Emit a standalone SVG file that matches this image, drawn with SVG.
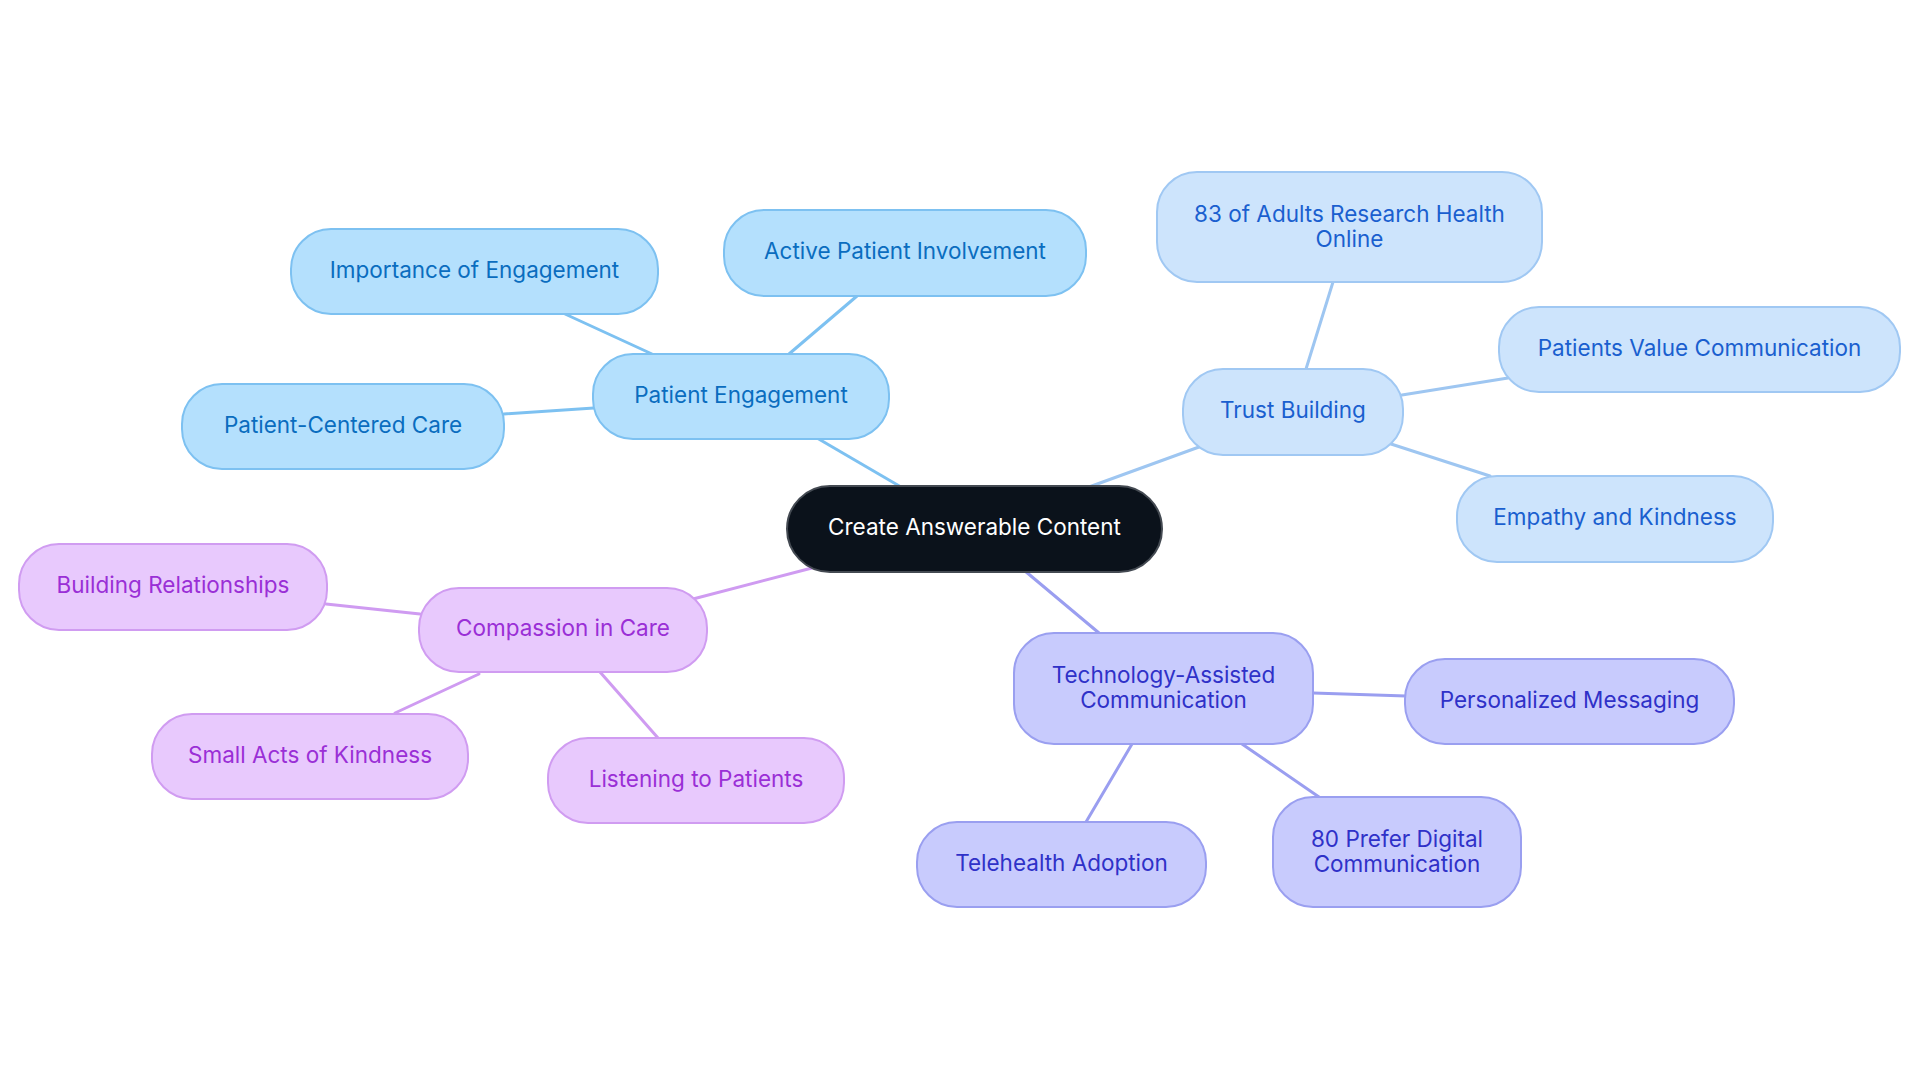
<svg xmlns="http://www.w3.org/2000/svg" width="1920" height="1083" viewBox="0 0 1920 1083">
<style>
text{font-family:Inter,"Noto Sans","Liberation Sans",sans-serif;font-size:22.5px;text-anchor:middle}
.c{stroke-width:3;fill:none;stroke-linecap:round}
.cb{stroke:#7dc1f1}.ct{stroke:#9ec6f1}.cp{stroke:#cf9bf1}.ci{stroke:#9a9ef0}
.b rect{fill:#b4e0fd;stroke:#7dc1f1;stroke-width:2}.b text{fill:#0a6dbf}
.t rect{fill:#cde4fc;stroke:#a0c8f3;stroke-width:2}.t text{fill:#1a5fcf}
.p rect{fill:#e8c9fd;stroke:#d09cf1;stroke-width:2}.p text{fill:#9a2fd6}
.i rect{fill:#c8cbfd;stroke:#9a9ff0;stroke-width:2}.i text{fill:#2f31c8}
.r rect{fill:#0b121b;stroke:#444a52;stroke-width:2}.r text{fill:#ffffff}
</style>
<rect width="1920" height="1083" fill="#ffffff"/>
<g id="connectors">
<line class="c cb" x1="817" y1="438" x2="901" y2="487"/>
<line class="c cb" x1="857" y1="296" x2="789" y2="354"/>
<line class="c cb" x1="565" y1="314" x2="652" y2="354"/>
<line class="c cb" x1="504" y1="414" x2="594" y2="408"/>
<line class="c ct" x1="1199" y1="447" x2="1089" y2="487"/>
<line class="c ct" x1="1333" y1="282" x2="1306" y2="369"/>
<line class="c ct" x1="1508" y1="378" x2="1402" y2="395"/>
<line class="c ct" x1="1490" y1="476" x2="1391" y2="444"/>
<line class="c cp" x1="693" y1="599" x2="812" y2="568"/>
<line class="c cp" x1="326" y1="604" x2="420" y2="614"/>
<line class="c cp" x1="395" y1="713" x2="479" y2="674"/>
<line class="c cp" x1="658" y1="738" x2="600" y2="672"/>
<line class="c ci" x1="1099" y1="633" x2="1025" y2="571"/>
<line class="c ci" x1="1086" y1="822" x2="1132" y2="744"/>
<line class="c ci" x1="1319" y1="797" x2="1242" y2="744"/>
<line class="c ci" x1="1406" y1="696" x2="1313" y2="693"/>
</g>
<g id="root" class="r"><rect x="787" y="486" width="375" height="86" rx="43"/><text x="974.5" y="535">Create Answerable Content</text></g>
<g id="patient-engagement" class="b"><rect x="593" y="354" width="296" height="85" rx="40"/><text x="741" y="402.5">Patient Engagement</text></g>
<g id="active-patient-involvement" class="b"><rect x="724" y="210" width="362" height="86" rx="40"/><text x="905" y="259">Active Patient Involvement</text></g>
<g id="importance-of-engagement" class="b"><rect x="291" y="229" width="367" height="85" rx="40"/><text x="474.5" y="277.5">Importance of Engagement</text></g>
<g id="patient-centered-care" class="b"><rect x="182" y="384" width="322" height="85" rx="40"/><text x="343" y="432.5">Patient-Centered Care</text></g>
<g id="trust-building" class="t"><rect x="1183" y="369" width="220" height="86" rx="40"/><text x="1293" y="418">Trust Building</text></g>
<g id="adults-research" class="t"><rect x="1157" y="172" width="385" height="110" rx="40"/><text x="1349.5" y="222">83 of Adults Research Health</text><text x="1349.5" y="247">Online</text></g>
<g id="patients-value-communication" class="t"><rect x="1499" y="307" width="401" height="85" rx="40"/><text x="1699.5" y="355.5">Patients Value Communication</text></g>
<g id="empathy-and-kindness" class="t"><rect x="1457" y="476" width="316" height="86" rx="40"/><text x="1615" y="525">Empathy and Kindness</text></g>
<g id="compassion-in-care" class="p"><rect x="419" y="588" width="288" height="84" rx="40"/><text x="563" y="636">Compassion in Care</text></g>
<g id="building-relationships" class="p"><rect x="19" y="544" width="308" height="86" rx="40"/><text x="173" y="593">Building Relationships</text></g>
<g id="small-acts-of-kindness" class="p"><rect x="152" y="714" width="316" height="85" rx="40"/><text x="310" y="762.5">Small Acts of Kindness</text></g>
<g id="listening-to-patients" class="p"><rect x="548" y="738" width="296" height="85" rx="40"/><text x="696" y="786.5">Listening to Patients</text></g>
<g id="technology-assisted-communication" class="i"><rect x="1014" y="633" width="299" height="111" rx="40"/><text x="1163.5" y="683">Technology-Assisted</text><text x="1163.5" y="708">Communication</text></g>
<g id="personalized-messaging" class="i"><rect x="1405" y="659" width="329" height="85" rx="40"/><text x="1569.5" y="707.5">Personalized Messaging</text></g>
<g id="telehealth-adoption" class="i"><rect x="917" y="822" width="289" height="85" rx="40"/><text x="1061.5" y="870.5">Telehealth Adoption</text></g>
<g id="prefer-digital-communication" class="i"><rect x="1273" y="797" width="248" height="110" rx="40"/><text x="1397" y="847">80 Prefer Digital</text><text x="1397" y="872">Communication</text></g>
</svg>
